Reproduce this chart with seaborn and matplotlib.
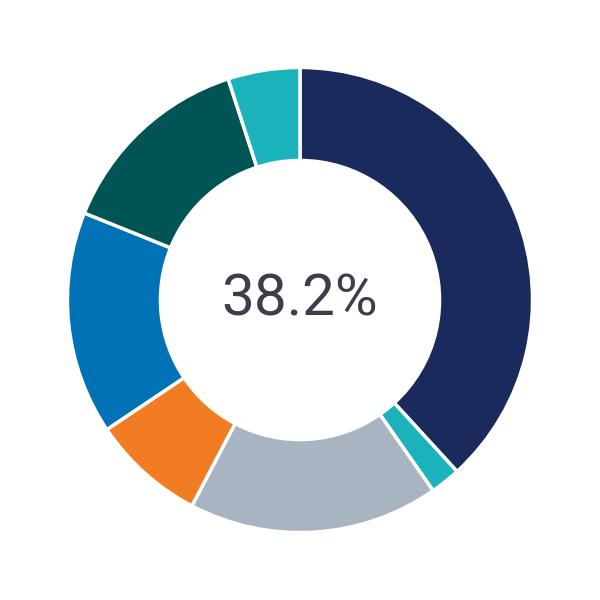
import matplotlib
matplotlib.use("Agg")
import matplotlib.pyplot as plt
import seaborn as sns

categories = ["A", "B", "C", "D", "E", "F", "G"]
values = [38.2, 2.1, 17.4, 7.9, 15.5, 13.9, 5.0]
colors = ["#1b2a5c", "#1ab3bc", "#a9b4c2", "#f27c22", "#0072b5", "#005453", "#1ab3bc"]
center_label = "38.2%"

sns.set_style("white")
plt.rcParams['font.family'] = ['Roboto', 'DejaVu Sans']

fig, ax = plt.subplots(figsize=(6, 6), dpi=100)
fig.subplots_adjust(left=0, right=1, top=1, bottom=0)
ax.pie(values, colors=colors, startangle=90, counterclock=False,
       radius=1.0,
       wedgeprops=dict(width=0.4, edgecolor="white", linewidth=2.5))
ax.set_xlim(-1.29, 1.29)
ax.set_ylim(-1.29, 1.29)
ax.set_aspect("equal")
ax.axis("off")
ax.text(0, 0, center_label, ha="center", va="center", fontsize=42, color="#3a3f4b")
fig.savefig("out.png", dpi=100, facecolor="white")
